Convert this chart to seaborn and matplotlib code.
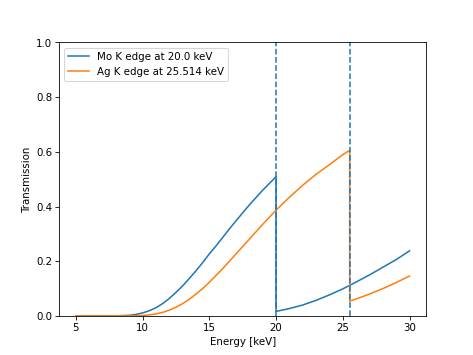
import matplotlib
matplotlib.use("Agg")
import matplotlib.pyplot as plt
import pandas as pd
import seaborn as sns

# energies in keV, edge energies appear twice (before / after the jump)
energy = [5, 6, 7, 8, 9, 9.5, 10, 10.5, 11, 11.5, 12, 12.5, 13, 13.5, 14, 14.5,
          15, 15.5, 16, 16.5, 17, 18, 19, 20,
          20, 21, 22, 23, 24, 25, 25.514,
          25.514, 26, 27, 28, 29, 30]

trans_mo = [0.0, 0.0, 0.0, 0.0002, 0.0023, 0.0054, 0.011, 0.019, 0.030, 0.045, 0.064,
            0.086, 0.110, 0.137, 0.165, 0.195,
            0.227, 0.256, 0.287, 0.318, 0.348, 0.406, 0.460, 0.509,
            0.0165, 0.027, 0.040, 0.057, 0.077, 0.099, 0.112,
            0.112, 0.124, 0.150, 0.178, 0.206, 0.238]

trans_ag = [0.0, 0.0, 0.0, 0.0, 0.0002, 0.0007, 0.0017, 0.0038, 0.0073, 0.013, 0.021,
            0.032, 0.045, 0.061, 0.080, 0.100,
            0.123, 0.148, 0.173, 0.200, 0.227, 0.281, 0.335, 0.387,
            0.387, 0.434, 0.478, 0.518, 0.553, 0.590, 0.605,
            0.054, 0.062, 0.080, 0.100, 0.122, 0.146]

edges = [20.0, 25.514]
labels = ["Mo K edge at 20.0 keV", "Ag K edge at 25.514 keV"]

df = pd.DataFrame({"Energy": energy, "Mo": trans_mo, "Ag": trans_ag})

fig, ax = plt.subplots(figsize=(6.4, 4.8), dpi=74)

sns.lineplot(data=df, x="Energy", y="Mo", label=labels[0], color="C0",
             estimator=None, sort=False, ax=ax)
sns.lineplot(data=df, x="Energy", y="Ag", label=labels[1], color="C1",
             estimator=None, sort=False, ax=ax)

for e in edges:
    ax.axvline(e, color="C0", linestyle="--")

ax.set_ylim(0, 1.0)
ax.set_xticks([5, 10, 15, 20, 25, 30])
ax.set_xlabel("Energy [keV]")
ax.set_ylabel("Transmission")
ax.legend(loc="upper left")

plt.savefig("out.png", dpi=74)
